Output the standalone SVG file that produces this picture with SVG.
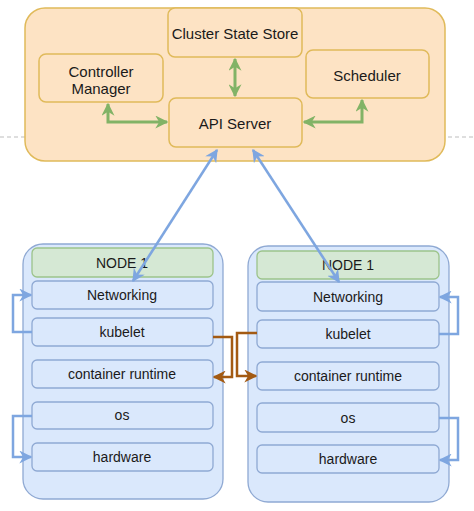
<svg xmlns="http://www.w3.org/2000/svg" width="474" height="511" viewBox="0 0 474 511">
<style>
  .t { font-family: "Liberation Sans", Arial, sans-serif; fill: #1a1a1a; text-anchor: middle; dominant-baseline: central; }
  .m { font-size: 15px; }
  .n { font-size: 14px; }
  .or { fill: #fde3c4; stroke: #e0ba5a; stroke-width: 1.5; }
  .bl { fill: #dae8fc; stroke: #8fa9d3; stroke-width: 1.3; }
  .gr { fill: #d5e8d4; stroke: #9cc38a; stroke-width: 1.3; }
  .cg { fill: none; stroke: #82b366; stroke-width: 3; }
  .cb { fill: none; stroke: #7ea6e0; stroke-width: 2.5; }
  .cbr { fill: none; stroke: #a35a12; stroke-width: 2.5; }
</style>
<defs>
  <marker id="ag" viewBox="0 0 10 10" refX="9" refY="5" markerWidth="13" markerHeight="13" markerUnits="userSpaceOnUse" orient="auto-start-reverse">
    <path d="M0,0 L10,5 L0,10 L3,5 z" fill="#82b366"/>
  </marker>
  <marker id="ab" viewBox="0 0 10 10" refX="9" refY="5" markerWidth="13" markerHeight="13" markerUnits="userSpaceOnUse" orient="auto-start-reverse">
    <path d="M0,0 L10,5 L0,10 L3,5 z" fill="#7ea6e0"/>
  </marker>
  <marker id="abr" viewBox="0 0 10 10" refX="9" refY="5" markerWidth="13" markerHeight="13" markerUnits="userSpaceOnUse" orient="auto-start-reverse">
    <path d="M0,0 L10,5 L0,10 L3,5 z" fill="#a35a12"/>
  </marker>
</defs>
<line x1="0" y1="137" x2="474" y2="137" stroke="#bdbdbd" stroke-width="1" stroke-dasharray="4,3"/>
<g id="master">
  <rect class="or" x="25" y="8" width="420" height="153" rx="20"/>
</g>
<g id="cluster-state-store">
  <rect class="or" x="168" y="8" width="134" height="49" rx="7"/>
  <text class="t m" x="235" y="33">Cluster State Store</text>
</g>
<g id="controller-manager">
  <rect class="or" x="39" y="54" width="124" height="48" rx="7"/>
  <text class="t m" x="101" y="71">Controller</text>
  <text class="t m" x="101" y="88">Manager</text>
</g>
<g id="scheduler">
  <rect class="or" x="306" y="50" width="123" height="48" rx="7"/>
  <text class="t m" x="367" y="75">Scheduler</text>
</g>
<g id="api-server">
  <rect class="or" x="169" y="98" width="133" height="49" rx="7"/>
  <text class="t m" x="235" y="123">API Server</text>
</g>
<g id="node-left">
  <rect class="bl" x="23" y="244" width="200" height="255" rx="20"/>
  <rect class="gr" x="32" y="248" width="181" height="29" rx="5"/>
  <text class="t n" x="122" y="263">NODE 1</text>
  <rect class="bl" x="32" y="281" width="181" height="28" rx="5"/>
  <text class="t n" x="122" y="295">Networking</text>
  <rect class="bl" x="32" y="318" width="181" height="28" rx="5"/>
  <text class="t n" x="122" y="332">kubelet</text>
  <rect class="bl" x="32" y="360" width="181" height="28" rx="5"/>
  <text class="t n" x="122" y="374">container runtime</text>
  <rect class="bl" x="32" y="402" width="181" height="27" rx="5"/>
  <text class="t n" x="122" y="415">os</text>
  <rect class="bl" x="32" y="443" width="181" height="28" rx="5"/>
  <text class="t n" x="122" y="457">hardware</text>
</g>
<g id="node-right">
  <rect class="bl" x="248" y="246" width="201" height="256" rx="20"/>
  <rect class="gr" x="257" y="251" width="182" height="28" rx="5"/>
  <text class="t n" x="348" y="265">NODE 1</text>
  <rect class="bl" x="257" y="282" width="182" height="29" rx="5"/>
  <text class="t n" x="348" y="297">Networking</text>
  <rect class="bl" x="257" y="320" width="182" height="28" rx="5"/>
  <text class="t n" x="348" y="334">kubelet</text>
  <rect class="bl" x="257" y="362" width="182" height="28" rx="5"/>
  <text class="t n" x="348" y="376">container runtime</text>
  <rect class="bl" x="257" y="403" width="182" height="29" rx="5"/>
  <text class="t n" x="348" y="418">os</text>
  <rect class="bl" x="257" y="445" width="182" height="28" rx="5"/>
  <text class="t n" x="348" y="459">hardware</text>
</g>
<g id="connectors">
  <path class="cg" d="M235,59 V96" marker-start="url(#ag)" marker-end="url(#ag)"/>
  <path class="cg" d="M108,104 V122 H167" marker-start="url(#ag)" marker-end="url(#ag)"/>
  <path class="cg" d="M362,100 V122 H304" marker-start="url(#ag)" marker-end="url(#ag)"/>
  <path class="cb" d="M217,150 L133,281" marker-start="url(#ab)" marker-end="url(#ab)"/>
  <path class="cb" d="M253,150 L339,282" marker-start="url(#ab)" marker-end="url(#ab)"/>
  <path class="cb" d="M32,332 H13 V295 H31" marker-end="url(#ab)"/>
  <path class="cb" d="M32,416 H13 V457 H31" marker-end="url(#ab)"/>
  <path class="cb" d="M439,334 H458 V297 H440" marker-end="url(#ab)"/>
  <path class="cb" d="M439,418 H458 V460 H440" marker-end="url(#ab)"/>
  <path class="cbr" d="M213,337 H232 V377 H214" marker-end="url(#abr)"/>
  <path class="cbr" d="M257,333 H237 V376 H256" marker-end="url(#abr)"/>
</g>
</svg>
